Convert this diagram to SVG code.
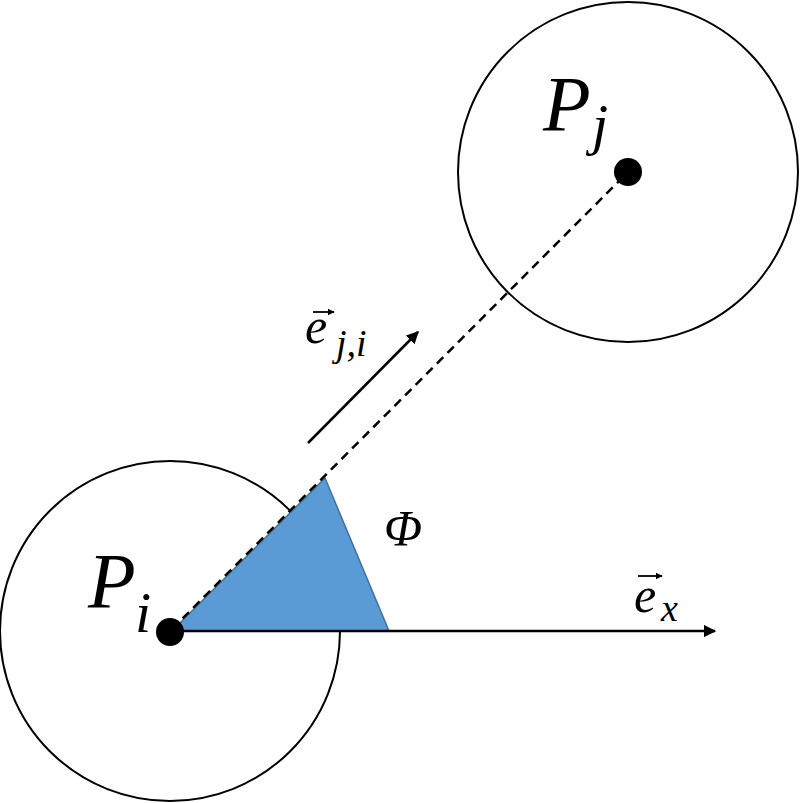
<svg xmlns="http://www.w3.org/2000/svg" width="800" height="803" viewBox="0 0 800 803">
<defs>
<style>
.circ{fill:none;stroke:#000;stroke-width:2}
.ln{stroke:#000;stroke-width:2.5;fill:none}
.dash{stroke:#000;stroke-width:2.5;stroke-dasharray:9,6;fill:none}
.t{font-family:"Liberation Serif","DejaVu Serif",serif;font-style:italic;fill:#000}
.vec{stroke:#000;stroke-width:1.8;fill:none}
</style>
<marker id="ah" viewBox="0 0 10 10" refX="9" refY="5" markerWidth="5" markerHeight="5" orient="auto" markerUnits="strokeWidth">
<path d="M0,0 L10,5 L0,10 z" fill="#000"/>
</marker>
<marker id="sah" viewBox="0 0 10 10" refX="9" refY="5" markerWidth="4" markerHeight="4" orient="auto" markerUnits="strokeWidth">
<path d="M0,0 L10,5 L0,10 z" fill="#000"/>
</marker>
</defs>
<rect width="800" height="803" fill="#fff"/>
<g id="node-pi">
<circle class="circ" cx="170" cy="631" r="170"/>
<polygon points="172,631 325,478 389,631" fill="#5B9BD5" stroke="#41719C" stroke-width="1.5"/>
<circle cx="170" cy="632" r="14" fill="#000"/>
<text class="t" x="88" y="607" font-size="78">P</text>
<text class="t" x="135" y="632" font-size="58">i</text>
</g>
<g id="node-pj">
<circle class="circ" cx="628" cy="172" r="170"/>
<circle cx="628" cy="172" r="14" fill="#000"/>
<text class="t" x="543" y="130" font-size="78">P</text>
<text class="t" x="592" y="144" font-size="58">j</text>
</g>
<g id="connectors">
<line class="dash" x1="172" y1="629" x2="626" y2="174"/>
<line class="ln" x1="172" y1="631" x2="715" y2="631" marker-end="url(#ah)"/>
<line class="ln" x1="308" y1="443" x2="418" y2="332" marker-end="url(#ah)"/>
</g>
<g id="label-phi">
<text class="t" x="403" y="545" font-size="50" text-anchor="middle">Φ</text>
</g>
<g id="label-eji">
<line class="vec" x1="313" y1="312" x2="334" y2="312" marker-end="url(#sah)"/>
<text class="t" x="305" y="343" font-size="50">e</text>
<text class="t" x="336" y="356" font-size="38">j,i</text>
</g>
<g id="label-ex">
<line class="vec" x1="638" y1="576" x2="662" y2="576" marker-end="url(#sah)"/>
<text class="t" x="634" y="612" font-size="50">e</text>
<text class="t" x="661" y="621" font-size="38">x</text>
</g>
</svg>
